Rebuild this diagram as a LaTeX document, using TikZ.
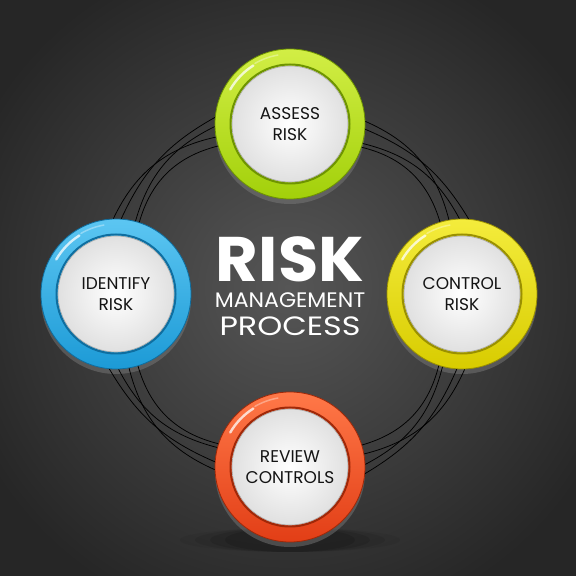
\documentclass[tikz,border=0pt]{standalone}
\usepackage{fontspec}
\setmainfont{Poppins}
\usetikzlibrary{shadows}
\definecolor{bgin}{HTML}{565656}
\definecolor{bgout}{HTML}{262626}
\definecolor{cg}{HTML}{A2D00A}\definecolor{cgL}{HTML}{D2EE45}\definecolor{cgD}{HTML}{6E9400}
\definecolor{cb}{HTML}{1C9AD6}\definecolor{cbL}{HTML}{5CC6F2}\definecolor{cbD}{HTML}{0E6EA0}
\definecolor{cy}{HTML}{D8CC00}\definecolor{cyL}{HTML}{F4EC3C}\definecolor{cyD}{HTML}{9A9000}
\definecolor{cr}{HTML}{E23E16}\definecolor{crL}{HTML}{FF7848}\definecolor{crD}{HTML}{A02808}
\tikzset{
  ring/.style={circle, minimum size=150pt, inner sep=0pt, top color=#1L, bottom color=#1,
    draw=#1D, line width=.8pt,
    drop shadow={opacity=.45, shadow xshift=0pt, shadow yshift=-5pt}},
  disc/.style={circle, minimum size=116pt, inner sep=0pt, inner color=white, outer color=black!12,
    draw=black!35, line width=.6pt, align=center, text=black!92,
    font=\fontsize{17}{20.5}\selectfont},
  link/.style={draw=black, line width=.75pt},
  title/.style={text=white, anchor=base, inner sep=0pt, text depth=0pt},
}
\begin{document}
\begin{tikzpicture}[x=1pt,y=1pt]
\useasboundingbox (0,0) rectangle (576,576);
\shade[inner color=bgin, outer color=bgout] (-60,-60) rectangle (636,636);
% floor shadow under bottom circle
\foreach \r/\o in {110/.06,95/.08,80/.10,65/.12}
  \fill[black, opacity=\o] (290,36) ellipse (\r pt and 12pt);
% rings
\foreach \n/\x/\y/\c in {top/290/452/cg, left/116/282/cb, right/462/282/cy, bottom/290/109/cr}{
  \node[ring=\c] (\n) at (\x,\y) {};
  \draw[\c D, line width=2pt] (\n.center) circle (59.5pt);
  \draw[white, opacity=.75, line width=2.4pt, line cap=round] (\n.center) ++(122:69) arc (122:150:69);
  \draw[white, opacity=.35, line width=1.5pt, line cap=round] (\n.center) ++(100:70) arc (100:120:70);
}
% connectors
\foreach \A/\B/\off in {top/left/0, left/bottom/90, bottom/right/180, right/top/270}{
  \foreach \a/\b/\bend in {175/86/18, 182/75/24, 190/92/26, 197/72/30}{
    \pgfmathtruncatemacro{\aa}{\a+\off}
    \pgfmathtruncatemacro{\bb}{\b+\off}
    \draw[link] (\A.\aa) to[bend right=\bend] (\B.\bb);
  }
}
% discs with labels
\node[disc] (topd) at (top) {ASSESS\\RISK};
\node[disc] (leftd) at (left) {IDENTIFY\\RISK};
\node[disc] (rightd) at (right) {CONTROL\\RISK};
\node[disc] (bottomd) at (bottom) {REVIEW\\CONTROLS};
% central title
\node[title, text height=44pt, font=\fontsize{63}{63}\selectfont\bfseries, xscale=1.04] (risk) at (290,294) {RISK};
\node[title, text height=15pt, font=\fontsize{21}{21}\selectfont, xscale=1.05] (mgmt) at (290,268) {MANAGEMENT};
\node[title, text height=19pt, font=\fontsize{26.5}{26.5}\selectfont, xscale=1.2] (proc) at (290,240) {PROCESS};
\end{tikzpicture}
\end{document}
